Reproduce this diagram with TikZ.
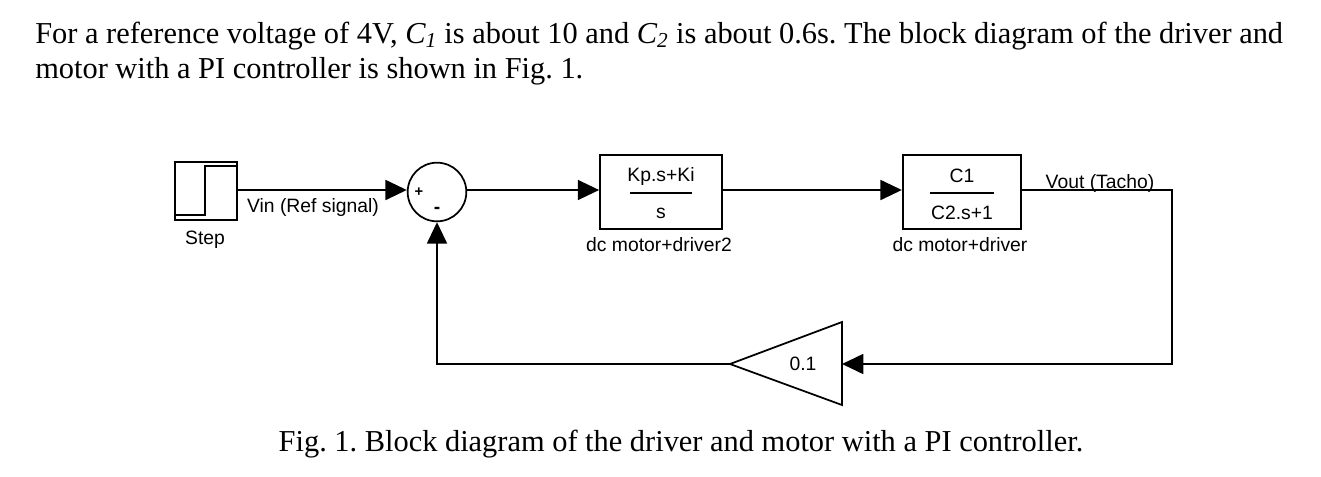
\documentclass[tikz,border=0pt]{standalone}
\usepackage{fontspec}
\setmainfont{Liberation Serif}
\newfontfamily\sans{Liberation Sans}
\usetikzlibrary{arrows.meta}
\frenchspacing
\begin{document}
\begin{tikzpicture}[x=0.75pt,y=-0.75pt,
  blk/.style={draw,line width=1.3pt,inner sep=0},
  sig/.style={line width=1.3pt,-{Triangle[length=16pt,width=15pt]}},
  lbl/.style={font=\sans\fontsize{14.5}{17}\selectfont},
  every node/.style={inner sep=0}]
\useasboundingbox (0,0) rectangle (1321,476);
\node[anchor=base west,font=\fontsize{22.8}{26}\selectfont] (t1) at (35,43) {For a reference voltage of 4V, \textit{C\textsubscript{1}} is about 10 and \textit{C\textsubscript{2}} is about 0.6s. The block diagram of the driver and};
\node[anchor=base west,font=\fontsize{22.8}{26}\selectfont] (t2) at (35,78) {motor with a PI controller is shown in Fig. 1.};
% step
\node[blk,minimum width=46.5pt,minimum height=43.5pt] (step) at (206,191) {};
\draw[line width=1.3pt] (176,215) -- (205,215) -- (205,166) -- (236,166);
\node[lbl] (steplbl) at (205,240) {Step};
% sum
\node[blk,circle,minimum size=44pt] (sum) at (437,192) {};
\node[font=\sans\fontsize{11}{12}\selectfont] (plus) at (419,192) {\textbf{+}};
\node[lbl] (minus) at (437,210) {\textbf{-}};
% blocks
\node[blk,minimum width=91.5pt,minimum height=56pt] (b1) at (661,192) {};
\node[lbl] (n1) at (661,176) {Kp.s+Ki};
\node[lbl] (d1) at (661,213) {s};
\draw[line width=0.8pt] (630,193) -- (692,193);
\node[lbl] (l1) at (659,245) {dc motor+driver2};
\node[blk,minimum width=89pt,minimum height=56pt] (b2) at (962,192) {};
\node[lbl] (n2) at (962,176) {C1};
\node[lbl] (d2) at (962,213) {C2.s+1};
\draw[line width=0.8pt] (930,193) -- (994,193);
\node[lbl] (l2) at (960,245) {dc motor+driver};
% gain
\coordinate (gr) at (842,364);
\coordinate (gt) at (730,364);
\draw[line width=1.3pt] (842,322) -- (842,405) -- (730,364) -- cycle;
\node[lbl] (g) at (803,364) {0.1};
\coordinate (c1) at (1172,190);
\coordinate (c2) at (1172,364);
\coordinate (c3) at (437,364);
% signals
\draw[sig] (step.east |- 0,190) -- (sum.west |- 0,190);
\node[lbl] (vin) at (313,207) {Vin (Ref signal)};
\draw[sig] (sum.east |- 0,190) -- (b1.west |- 0,190);
\draw[sig] (b1.east |- 0,190) -- (b2.west |- 0,190);
\draw[sig] (b2.east |- 0,190) -- (c1) -- (c2) -- (gr);
\node[lbl] (vout) at (1100,183) {Vout (Tacho)};
\draw[sig] (gt) -- (c3) -- (sum.south);
\node[anchor=base,font=\fontsize{22.8}{26}\selectfont] (cap) at (681,451) {Fig. 1. Block diagram of the driver and motor with a PI controller.};
\end{tikzpicture}
\end{document}
